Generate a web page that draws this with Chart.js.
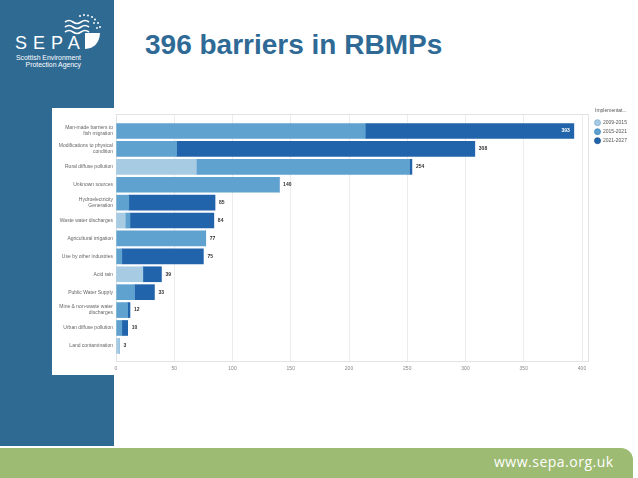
<!DOCTYPE html>
<html>
<head>
<meta charset="utf-8">
<title>396 barriers in RBMPs</title>
<script src="https://cdn.jsdelivr.net/npm/chart.js@4"></script>
<style>
html, body { margin: 0; padding: 0; }
body { width: 638px; height: 478px; position: relative; overflow: hidden; background: #fff; font-family: "Liberation Sans", Arial, sans-serif; }
#band { position: absolute; left: 0; top: 0; width: 114px; height: 446px; background: #2f6a93; }
#foot { position: absolute; left: 0; top: 448px; width: 633px; height: 30px; background: #9dbb72; border-top-right-radius: 12px; }
#url { position: absolute; left: 494px; top: 455px; color: #fff; font: 14px/14px "Open Sans", sans-serif; letter-spacing: 0.5px; }
#title { position: absolute; left: 145px; top: 31px; font: bold 28px/28px "Liberation Sans", Arial, sans-serif; color: #2e6a95; white-space: nowrap; }
#sepa { position: absolute; left: 15px; top: 34px; color: #fff; font: 18px/18px "Liberation Sans", Arial, sans-serif; letter-spacing: 6px; }
#agency { position: absolute; left: 0; width: 81px; top: 54px; color: #fff; text-align: right; font: 8px/7px "Liberation Sans", Arial, sans-serif; transform: scaleX(0.86); transform-origin: 81px 0; white-space: nowrap; }
#icon { position: absolute; left: 0; top: 0; }
#white { position: absolute; left: 52px; top: 108px; width: 548px; height: 267px; background: #fff; }
#panel { position: absolute; left: 52px; top: 108px; width: 586px; height: 267px; }
</style>
</head>
<body>
<div id="band"></div>
<svg id="icon" width="114" height="60">
  <g fill="none" stroke="#fff" stroke-width="1.6">
    <path d="M65,22 q4,-3 8,0 t8,0 t8,0"/>
    <path d="M65,27 q4,-3 8,0 t8,0 t8,0"/>
    <path d="M65,32 q4,-3 8,0 t8,0 t8,0"/>
  </g>
  <path d="M85,33 L85,49 Q99,48 100,33 Z" fill="#fff"/>
  <g fill="#fff">
    <circle cx="80" cy="16" r="1"/><circle cx="84" cy="15" r="1"/><circle cx="88" cy="15.5" r="1"/>
    <circle cx="92" cy="17" r="1"/><circle cx="95" cy="19.5" r="1"/><circle cx="98" cy="23" r="1"/>
    <circle cx="100" cy="27" r="1"/><circle cx="94" cy="23" r="0.9"/><circle cx="97" cy="28" r="0.9"/>
  </g>
</svg>
<div id="sepa">SEPA</div>
<div id="agency">Scottish Environment<br>Protection Agency</div>
<div id="title">396 barriers in RBMPs</div>
<div id="white"></div>
<div id="panel"><canvas id="chart" width="586" height="267"></canvas></div>
<div id="foot"></div>
<div id="url">www.sepa.org.uk</div>

<script>
const categories = [
    ['Man-made barriers to', 'fish migration'],
    ['Modifications to physical', 'condition'],
    'Rural diffuse pollution',
    'Unknown sources',
    ['Hydroelectricity', 'Generation'],
    'Waste water discharges',
    'Agricultural irrigation',
    'Use by other industries',
    'Acid rain',
    'Public Water Supply',
    ['Mine & non-waste water', 'discharges'],
    'Urban diffuse pollution',
    'Land contamination'
];

const periods = ['2009-2015', '2015-2021', '2021-2027'];
const period2009 = [0, 0, 69, 0, 0, 8, 0, 0, 23, 0, 0, 0, 3];
const period2015 = [214, 52, 183, 140, 11, 4, 77, 5, 0, 16, 10, 5, 0];
const period2021 = [179, 256, 2, 0, 74, 72, 0, 70, 16, 17, 2, 5, 0];
const xTicks = [0, 50, 100, 150, 200, 250, 300, 350, 400];
const legendTitle = 'Implementat...';

const fills = ['#a7cbe3', '#5fa1cf', '#2264ab'];
const rings = ['#7fb0d3', '#3f86bd', '#17508f'];

const totals = categories.map((c, i) => period2009[i] + period2015[i] + period2021[i]);

function toPoints(arr) {
    return arr.map((v, i) => ({ x: v, y: i }));
}

const boxPlugin = {
    id: 'box',
    beforeDatasetsDraw(chart) {
        const a = chart.chartArea;
        const ctx = chart.ctx;
        ctx.save();
        ctx.strokeStyle = '#e3e3e3';
        ctx.lineWidth = 1;
        ctx.strokeRect(a.left + 0.5, a.top + 0.5, a.right - a.left - 1, a.bottom - a.top - 1);
        ctx.restore();
    }
};

const totalsPlugin = {
    id: 'totals',
    afterDatasetsDraw(chart) {
        const ctx = chart.ctx;
        const xs = chart.scales.x, ys = chart.scales.y;
        ctx.save();
        ctx.font = 'bold 5px "Liberation Sans", Arial, sans-serif';
        ctx.textBaseline = 'middle';
        totals.forEach((t, i) => {
            const px = xs.getPixelForValue(t);
            const py = ys.getPixelForValue(i);
            const w = ctx.measureText(String(t)).width;
            // no room on the right: put it inside the bar end
            if (px + 4 + w > chart.chartArea.right - 6) {
                ctx.fillStyle = '#fff';
                ctx.textAlign = 'right';
                ctx.fillText(String(t), px - 4, py);
            } else {
                ctx.fillStyle = '#333';
                ctx.textAlign = 'left';
                ctx.fillText(String(t), px + 4, py);
            }
        });
        ctx.restore();
    }
};

const legendPlugin = {
    id: 'sideLegend',
    afterDraw(chart) {
        const ctx = chart.ctx;
        ctx.save();
        ctx.font = '5px "Liberation Sans", Arial, sans-serif';
        ctx.textBaseline = 'middle';
        ctx.textAlign = 'left';
        ctx.fillStyle = '#555';
        ctx.fillText(legendTitle, 543, 3);
        chart.data.datasets.forEach((ds, i) => {
            const y = 14.7 + i * 9;
            ctx.beginPath();
            ctx.arc(545.5, y, 3, 0, Math.PI * 2);
            ctx.fillStyle = ds.backgroundColor;
            ctx.fill();
            ctx.strokeStyle = rings[i];
            ctx.lineWidth = 0.8;
            ctx.stroke();
            ctx.fillStyle = '#555';
            ctx.fillText(ds.label, 551, y);
        });
        ctx.restore();
    }
};

function setup() {
    const ctx = document.getElementById('chart').getContext('2d');
    new Chart(ctx, {
        type: 'bar',
        data: {
            datasets: [period2009, period2015, period2021].map((arr, i) => ({
                label: periods[i],
                data: toPoints(arr),
                backgroundColor: fills[i],
                borderWidth: 0,
                barThickness: 15
            }))
        },
        options: {
            indexAxis: 'y',
            responsive: false,
            devicePixelRatio: 1,
            animation: false,
            layout: { padding: { top: 6, right: 49, left: 0, bottom: 0 } },
            font: { family: '"Liberation Sans", Arial, sans-serif' },
            plugins: {
                legend: { display: false },
                tooltip: { enabled: false }
            },
            scales: {
                x: {
                    type: 'linear',
                    min: 0,
                    max: 406,
                    stacked: true,
                    afterBuildTicks: s => { s.ticks = xTicks.map(v => ({ value: v })); },
                    afterFit: s => { s.height = 13; },
                    ticks: { font: { size: 5 }, color: '#888', padding: 4, autoSkip: false, maxRotation: 0 },
                    grid: { color: '#ececec', drawTicks: false },
                    border: { display: false }
                },
                y: {
                    type: 'linear',
                    reverse: true,
                    offset: false,
                    min: -0.95,
                    max: 12.9,
                    stacked: true,
                    afterBuildTicks: s => { s.ticks = categories.map((c, i) => ({ value: i })); },
                    afterFit: s => { s.width = 64; },
                    ticks: { callback: v => categories[v], font: { size: 5 }, color: '#666', padding: 3, autoSkip: false },
                    grid: { display: false, drawTicks: false },
                    border: { display: false }
                }
            }
        },
        plugins: [boxPlugin, totalsPlugin, legendPlugin]
    });
}

window.onload = setup;
</script>
</body>
</html>
